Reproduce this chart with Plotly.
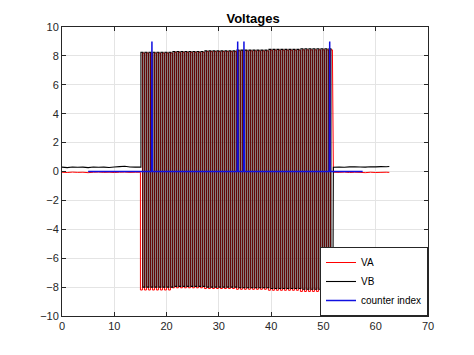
import plotly.graph_objects as go

# ---------------- data ----------------
# start time of each oscillation cycle (x units)
cycle_start = [15.000, 15.765, 16.530, 17.295, 18.060, 18.825, 19.590, 20.355,
               21.120, 21.885, 22.650, 23.415, 24.180, 24.945, 25.710, 26.475,
               27.240, 28.005, 28.770, 29.535, 30.300, 31.065, 31.830, 32.595,
               33.360, 34.125, 34.890, 35.655, 36.420, 37.185, 37.950, 38.715,
               39.480, 40.245, 41.010, 41.775, 42.540, 43.305, 44.070, 44.835,
               45.600, 46.365, 47.130, 47.895, 48.660, 49.425, 50.190, 50.955]
cycle_end = 51.72
# high / low levels per group of 8 cycles
va_high = [8.20, 8.25, 8.30, 8.35, 8.40, 8.42]
va_low = [-8.20, -8.05, -8.10, -8.15, -8.22, -8.30]
vb_high = [8.25, 8.30, 8.35, 8.40, 8.45, 8.50]
vb_low = [-8.00, -7.95, -8.00, -8.05, -8.10, -8.15]
vb_shift = 0.096

# idle (baseline) portions
pre_t = [0, 1, 2, 3, 4, 5, 6, 7, 8, 9, 10, 11, 12, 13, 14, 15]
va_pre = [-0.05, -0.07, -0.04, -0.06, -0.05, -0.08, -0.05, -0.04, -0.06, -0.05,
          -0.07, -0.05, -0.04, -0.06, -0.05, -0.05]
vb_pre = [0.30, 0.27, 0.31, 0.29, 0.30, 0.27, 0.31, 0.29, 0.30, 0.28, 0.31, 0.34,
          0.36, 0.31, 0.30, 0.30]
post_t = [51.9, 53, 54, 55, 56, 57, 58, 59, 60, 61, 62, 62.6]
va_post = [-0.05, -0.06, -0.04, -0.07, -0.05, -0.06, -0.08, -0.05, -0.07, -0.06,
           -0.05, -0.06]
vb_post = [0.30, 0.31, 0.29, 0.32, 0.33, 0.31, 0.30, 0.33, 0.32, 0.34, 0.33, 0.35]

# counter index
counter_start = 5.0
counter_end = 57.5
counter_spikes = [17.2, 33.6, 34.8, 51.2]
spike_height = 9.0
spike_halfwidth = 0.08

# ---------------- build traces ----------------
def square(levels_hi, levels_lo, first_low, shift):
    xs, ys = [], []
    n = len(cycle_start)
    for k in range(n):
        t0 = cycle_start[k] + shift
        t1 = (cycle_start[k + 1] if k + 1 < n else cycle_end) + shift
        mid = (t0 + t1) / 2
        g = min(k // 8, len(levels_hi) - 1)
        a, b = (levels_lo[g], levels_hi[g]) if first_low else (levels_hi[g], levels_lo[g])
        xs += [t0, mid, mid, t1]
        ys += [a, a, b, b]
    return xs, ys

va_x, va_y = square(va_high, va_low, True, 0.0)
vb_x, vb_y = square(vb_high, vb_low, False, vb_shift)

VA_x = pre_t + va_x + post_t
VA_y = va_pre + va_y + va_post
VB_x = pre_t + [pre_t[-1] + vb_shift] + vb_x + post_t
VB_y = vb_pre + [vb_pre[-1]] + vb_y + vb_post

cx, cy = [counter_start], [0]
for s in counter_spikes:
    cx += [s - spike_halfwidth, s, s + spike_halfwidth]
    cy += [0, spike_height, 0]
cx.append(counter_end)
cy.append(0)

fig = go.Figure()
fig.add_trace(go.Scatter(x=VA_x, y=VA_y, mode="lines", name="VA",
                         line=dict(color="#ff0000", width=1, simplify=False)))
fig.add_trace(go.Scatter(x=VB_x, y=VB_y, mode="lines", name="VB",
                         line=dict(color="#000000", width=1.1, simplify=False)))
fig.add_trace(go.Scatter(x=cx, y=cy, mode="lines", name="counter index",
                         line=dict(color="#1010e0", width=1.5, simplify=False)))

axis_common = dict(
    showgrid=True, gridcolor="#e4e4e4", gridwidth=1,
    showline=True, linecolor="#262626", linewidth=1, mirror="ticks",
    ticks="inside", ticklen=4, tickcolor="#262626",
    tickfont=dict(size=11, color="#262626", family="Liberation Sans, Arial"),
    zeroline=False, automargin=False,
)
fig.update_xaxes(range=[0, 70], tick0=0, dtick=10, **axis_common)
fig.update_yaxes(range=[-10, 10], tick0=-10, dtick=2, **axis_common)

fig.update_layout(
    width=474, height=355,
    margin=dict(l=54, r=54, t=19, b=47),
    paper_bgcolor="white", plot_bgcolor="white",
    title=dict(text="<b>Voltages</b>", x=0.517, xanchor="center", y=0.97, yanchor="middle",
               font=dict(size=13, color="#000000", family="Liberation Sans, Arial")),
    font=dict(family="Liberation Sans, Arial", color="#000000"),
    legend=dict(x=1, y=0, xanchor="right", yanchor="bottom",
                bgcolor="white", bordercolor="#262626", borderwidth=1,
                font=dict(size=10, color="#000000"), tracegroupgap=0,
                itemwidth=30),
    showlegend=True,
)

fig.write_html("out.html")
